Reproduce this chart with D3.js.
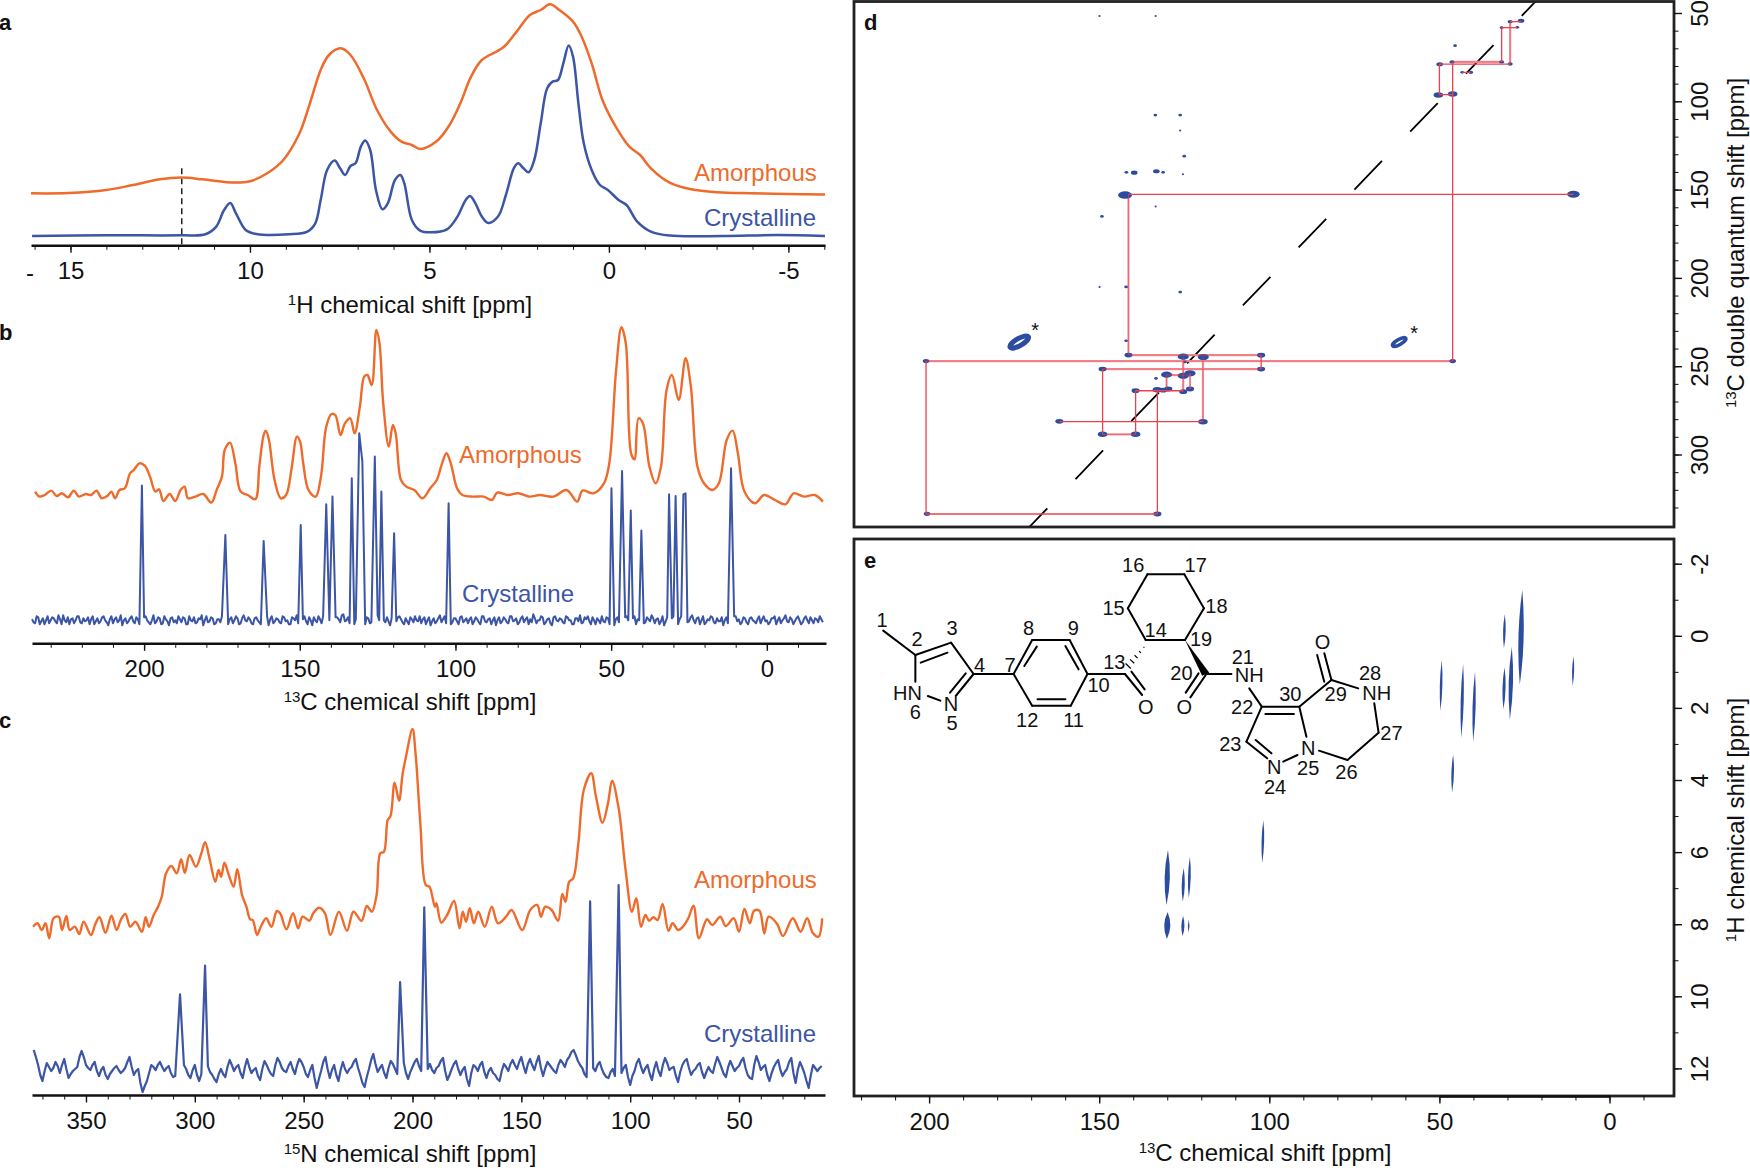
<!DOCTYPE html>
<html>
<head>
<meta charset="utf-8">
<style>
  body { margin:0; background:#fff; }
  svg { display:block; font-family:"Liberation Sans",Arial,sans-serif; }
  .axis path, .axis line { stroke:#111; }
  .axis text { font-size:24px; fill:#111; font-family:"Liberation Sans",Arial,sans-serif; }
</style>
<script src="https://cdn.jsdelivr.net/npm/d3@7"></script>
</head>
<body>
<div id="canvas"></div>
<script>
// ---------- panel a, 1H spectra (ppm, intensity)
var hAmorphPpm = [16.1,15.05,14,13.26,12.51,11.91,11.32,10.42,9.97,9.52,9.07,8.62,8.33,8.03,7.8,7.47,7.2,6.83,6.46,6.08,5.78,5.49,5.26,4.81,4.44,4.14,3.84,3.54,2.94,2.57,2.2,1.9,1.64,1.38,1,0.78,0.48,0.18,-0.19,-0.57,-0.87,-1.17,-1.69,-2.29,-3.03,-3.93,-4.98,-6.02];
var hAmorphInt = [52,52.3,55.3,60.3,66,67.7,66,62.7,64.3,72,85.3,112,142,175.3,190.3,197,190.3,167,135.3,113.7,103.7,100.3,96.3,103.7,120.3,142,168.7,185.3,198,213.7,230.3,235.3,241,235.3,223.7,210.3,182,145.3,118.7,98.7,90.3,77,62.7,56,53,52,51.3,50.7];
var hCrystPpm = [16.07,14,11.91,11.24,10.94,10.72,10.55,10.39,10.12,9.82,8.92,8.4,8.18,8.03,7.85,7.64,7.49,7.35,7.2,7.06,6.91,6.79,6.65,6.49,6.31,6.16,5.96,5.81,5.7,5.49,5.26,4.96,4.51,4.22,3.99,3.87,3.72,3.54,3.36,3.09,2.87,2.65,2.53,2.38,2.24,2.08,1.9,1.72,1.57,1.42,1.27,1.12,1,0.85,0.7,0.48,0.25,0.03,-0.27,-0.49,-0.79,-1.17,-1.69,-3.18,-4.68,-6.02];
var hCrystInt = [9.3,10,10,11,18.7,35.3,42.3,32,15.3,11.3,11,13.7,22,45.3,75.3,84.7,77,70.3,79.3,82,98.7,104.7,95.3,55.3,36,42,65.3,70.3,62,25.3,14.7,13,16,28.7,45.3,49.3,42,28.7,22.3,28.7,50.3,77,82,77,73,85.3,122,157,163.7,165.3,182,199.7,188.7,142,102,75.3,60.3,55.3,45.3,40.3,23.7,13.7,9.7,9.3,10.3,9.3];
var hDashedPpm = 11.9;
var hTicks = [15,10,5,0,-5];

// ---------- panel b, 13C spectra
var cAmorphPpm = [235,233.6,231.9,229.8,228.1,226.4,224.4,222.6,220.9,218.7,217,215.3,213.6,211.8,210.5,209.3,207.9,206.2,204.5,203.3,201.5,199.8,198.1,196.4,195.2,193.8,191.8,190,188.3,187,185.9,183.5,181,178.4,176.7,175,174.1,172.4,170.7,169,166.7,164.3,163,161.6,160.9,159.9,158.1,156.1,154.4,152.7,150.9,149.9,148.9,147.2,144.9,143.2,141.5,139.8,138.6,136.9,135.5,133.8,132.4,130.7,129.3,128.3,126.9,125.4,124.4,123.2,121.4,120.1,119.2,117.5,115.8,113.2,110.6,108.1,106,104.3,102.9,101.5,99.5,97.8,94.3,90.9,88.3,86.6,83.2,79.8,76.3,72.9,68.6,64.3,60.9,59.2,55.7,52.3,50.6,48.4,46.7,45.3,43.6,42.5,41.2,39.8,37.7,35.7,34,32.2,30.5,28.3,26.1,24.4,22.3,20.2,17.5,15.4,12.9,11,9.3,7.2,3.8,0.9,-2.6,-6,-8.6,-12,-15.4,-18];
var cAmorphInt = [151.7,146.7,148.3,152.7,147.3,150,146,152.7,146.7,149.3,148.3,152.7,145,147.3,151.7,145,153.3,155,170,173.3,180,177.7,166.7,151.7,154,142.3,149.3,142.3,153.3,156.7,145,146.7,149.3,140.7,153.3,166.7,193.3,200.7,180,151.7,148.3,144,176.7,208.3,212.7,203.3,163.3,145,148.3,173.3,206.7,201.7,180,153.3,146.7,166.7,216.7,229.3,228.3,208.3,220,225,210,236.7,266.7,268.3,258.3,313.3,300,240,196.7,218.3,210,163.3,156.7,153.3,145,155,163.3,180,190,180,155,148.3,146.7,146.7,143.3,150.7,148.3,150,146.7,148.3,146.7,153.3,141.7,152.7,150,160,180,273.3,316,300,190,184,225,220,176.7,160,176.7,253.3,268.3,243.3,285,256.7,176.7,160,153.3,160,203.3,212.7,190,151.7,140,148.3,143.3,139,150,146.7,148.3,141.7];
// baseline samples of the crystalline trace, one per ppm from 236 down to -18
var cNoisePpmStart = 236;
var cNoise = [
 24,20,26,22,19,27,23,25,20,24, 28,21,19,25,23,27,20,22,26,24,
 19,25,22,27,21,24,20,26,23,18, 25,22,27,20,24,21,26,23,19,28,
 22,25,20,24,18,26,23,27,21,25, 19,23,26,21,24,18,27,22,25,20,
 24,27,21,19,26,23,25,20,28,22, 24,19,26,21,25,23,18,27,22,24,
 20,26,23,19,25,28,21,24,22,26, 18,23,27,20,25,22,24,19,26,21,
 29,23,20,26,24,22,27,19,25,21, 24,28,20,23,26,18,25,22,27,21,
 25,19,24,27,22,20,26,23,18,25, 22,28,24,20,26,21,25,19,27,23,
 20,26,22,24,19,27,21,25,23,18, 26,22,24,20,27,23,19,25,21,26,
 24,29,20,23,26,21,25,18,27,22, 24,20,26,23,19,25,28,21,24,22,
 26,19,23,27,21,25,22,18,26,24, 20,27,22,25,19,23,26,21,24,28,
 20,25,22,18,26,23,27,21,24,19, 25,22,28,20,26,23,19,24,27,21,
 25,22,18,26,23,20,27,24,21,25, 19,26,22,24,20,27,23,21,25,19,
 26,23,28,21,24,22,27,19,25,23, 26,20,24,27,21
];
// the same trace at the half ppm positions, 235.5 down to -17.5
var cNoiseHalf = [
 21,27,19,25,23,20,26,22,28,19, 23,26,24,20,27,21,25,23,19,27,
 22,20,26,23,18,27,24,21,28,23, 20,25,22,26,19,24,27,21,23,20,
 26,19,27,22,25,21,20,24,26,19, 27,22,20,25,28,23,21,26,19,24,
 21,23,26,24,20,27,19,25,23,26, 20,25,23,19,22,27,24,20,25,21,
 27,22,19,26,23,20,25,27,19,23, 26,21,24,27,19,23,20,26,24,28,
 22,26,24,19,27,21,23,26,20,24, 19,23,27,21,22,25,20,26,24,19,
 22,26,21,23,27,24,19,26,22,20, 25,21,27,23,19,25,22,26,21,25,
 24,19,26,21,27,22,24,19,26,23, 20,26,21,27,22,25,21,27,24,19,
 21,25,23,27,19,24,20,26,23,25, 21,27,23,19,25,22,20,26,27,19,
 23,25,20,22,26,19,27,24,21,20, 26,23,19,27,24,21,20,26,22,25,
 24,19,27,22,20,25,23,19,27,24, 21,26,23,25,19,27,21,23,26,20,
 22,26,23,20,25,27,22,19,26,21, 25,23,20,27,24,22,19,25,27,23,
 20,25,22,26,19,25,23,21,27,20, 23,25,21,24
];
var cPeakPpm = [200.7,173.9,161.6,149.7,141.5,139.5,133.3,130.9,129.9,125.9,123.8,119.7,102.2,49.9,46.5,43.7,40.3,31.4,29.3,26.8,26.1,11.5];
var cPeakInt = [157.7,108.3,102.3,118.3,139,146.7,165,210,181.7,186.7,151.7,110,140,155,172.3,132.7,112.7,149,147.3,149,150,175];
var cTicks = [200,150,100,50,0];

// ---------- panel c, 15N spectra
var nAmorphPpm = [374.3,372.3,370.3,368.6,366.9,364.9,362.5,361,359,357.5,355.1,353.1,351.1,347.7,345.7,343.8,341,338.3,335.9,333.9,331.9,329.7,327.3,324.3,322.6,321.1,318.9,316.9,315.2,313.2,310.8,308.3,306.3,304.6,302.4,299.5,297,295.3,293.1,290.6,289.1,287.9,286.4,284.4,282.2,280.5,278.3,276.3,274.6,273.4,271.4,269.7,267.2,264.8,262.3,260.8,257.9,254.9,252.5,250.5,247.3,245.6,242.9,240.2,237.7,233.8,230.1,227.1,223.4,221,218.7,216.5,214.8,213.1,211.4,210.1,208.2,206.2,204.5,203,200,198.6,196.4,193.9,192.2,189.7,189,186.8,184.1,180.9,178.4,176.9,175.4,173.7,171.8,169.8,166.8,163.6,160.7,157,154.5,149.6,145.9,142.7,141,139,136.1,133.1,131.2,129.7,128,126.2,123.8,121.3,117.9,115.7,112.7,110.2,108.3,105.3,102.1,99.2,97.2,95,93,91.3,89.3,87.4,85.1,82.4,80.5,78,75.8,73.3,70.9,68.4,64.7,62.3,58.6,56.1,52.4,50,47.5,45,43.1,40.6,38.4,36.4,32.7,29.8,25.3,21.7,18.7,16,13.5,11.8];
var nAmorphInt = [168.3,171.7,165,171.7,156.7,176.7,178.3,165,179,165,168.3,161,173.3,160,171,177.7,162.3,179.3,165,175.7,181,168.3,173.3,163.3,177.7,168.3,180,188.3,198.3,221.7,229,221.7,235.7,222.3,240,228.3,241.7,252.7,235,213.3,225,218.3,232.3,220,208.3,225.7,200,188.3,175.7,175,160,168.3,176.7,168.3,184,181.7,165.7,181.7,166.7,178.3,174.3,181.7,187.3,181.7,160,183.3,164.3,183.3,174.3,189,183.3,200,241.7,243.3,275,279,312.3,294.3,321.7,338.3,366,341.7,271.7,210,208.3,188.3,191.7,172.3,180,194,166.7,183.3,173.3,186.7,171.7,183.3,168.3,188.3,171.7,178.3,185,165,185,190,178.3,188.3,185,174.3,201,193.3,213.3,216.7,251.7,305,321.7,298.3,272.3,291.7,314.3,286.7,225,183.3,196.7,168.3,180,174.3,177.7,175,191,164.3,171.7,165,168.3,176.7,189.3,156.7,175.7,170,178.3,169,176.7,163.3,186,171.7,184.3,184.3,161.7,178.3,171.7,159,176.7,163.3,176.7,161.7,158.3,176.7];
// baseline samples of the crystalline trace, even ppm from 374 down to 12
var nNoisePpmStart = 374;
var nNoise = [
 45,30,14,32,24,33,22,36,17,24, 28,44,30,25,33,19,28,16,24,29,
 22,27,38,20,26,3,14,30,25,33, 24,29,18,21,32,26,17,30,14,25,
 29,20,13,26,18,35,24,30,17,36, 22,27,15,34,25,19,37,27,23,33,
 21,36,28,18,30,7,24,38,17,30, 14,33,22,28,36,20,8,26,41,23,
 30,17,34,26,19,32,16,28,36,24, 18,31,22,29,37,15,26,34,20,28,
 9,30,24,33,17,27,20,14,31,24, 35,26,38,22,36,25,39,19,33,27,
 22,35,28,38,45,34,27,18,30,24, 33,21,17,26,14,22,30,10,24,36,
 22,30,15,33,19,37,25,28,13,30, 36,20,26,32,17,28,22,38,27,18,
 34,24,29,37,20,16,39,25,30,14, 28,35,19,26,37,12,33,22,7,30,
 24,29
];
// odd ppm positions, 373 down to 13
var nNoiseOdd = [
 38,20,24,28,27,29,30,26,21,26, 38,38,27,30,24,25,20,21,27,25,
 24,33,28,24,12,9,22,28,30,28, 27,22,19,27,30,20,25,20,21,28,
 23,16,21,21,28,30,28,22,28,28, 25,19,26,30,21,30,33,24,29,26,
 30,33,21,25,17,16,33,26,25,20, 25,26,26,33,27,12,18,35,31,27,
 22,27,31,21,27,22,23,33,29,20, 26,25,27,34,24,20,31,26,25,16,
 22,28,30,23,24,22,16,24,28,31, 30,33,29,31,30,33,27,27,30,24,
 30,32,35,43,40,30,21,26,27,30, 26,18,23,19,18,27,18,19,32,28,
 27,21,26,24,30,32,27,19,23,34, 27,24,30,23,23,24,31,33,21,28,
 29,27,34,27,17,30,33,28,20,22, 32,25,23,33,22,25,28,14,20,27,
 27
];
var nPeakPpm = [306.8,295.3,205.7,194.6,118.4,105.3];
var nPeakInt = [100.7,129.3,113,187.7,193.7,210];
var nTicks = [350,300,250,200,150,100,50];

// ---------- panel d, 13C DQ-SQ correlation
var dqSpotC = [149.9,133.4,133.5,126.2,126.2,125,142,139.7,133.2,131.2,125.4,142.4,133.4,149.2,45.4,49.9,46.3,31.7,29.2,31.7,27.1,29.2,26,43.3,40.8,50.3,46.1,10.6,149.9,142.1,126.2,142.1,141.4,125.3,119.4,124.8,102.4,102.4,149,130.2,123.3,125.3,133.3,139.3,132.9,131.2,129.7,123.3,125.3,161.7,119.5,149,139.3,132.9,200.9,46.1,200.6];
var dqSpotDq = [51.7,51.7,107.8,107.8,116.6,131.1,140.2,140.4,139.6,140.2,141.3,153.1,159.5,165.2,68.5,79,77.7,77.7,78.9,58.3,58.1,54.9,54.4,83.6,83.6,96.4,95.9,152.6,205.1,205.1,208,235.6,243.7,244.6,244.8,247.6,243.8,251.6,251.6,254.8,254,255.4,256.9,263.9,263.3,263.6,262.9,262.9,264.4,281.2,281.4,288.6,288.6,333.7,247.1,247.1,333.6];
var dqSpotInt = [1,1,1.5,1.5,1,1.5,1.5,2.5,2.5,1.5,1,5,1,1.5,1.5,2.5,2,2,2,1.5,1.5,2,2.5,1.5,2,3.5,3.5,4.5,1,1.5,1.5,1.5,3,4,4,1.5,3,3,3,4,4,4,1.5,3,3.5,3,3,3,3,3,3.5,3.5,3.5,3,2.5,2.5,2.5];
// x1,dq1,x2,dq2 of the walk through the spectrum
var dqLinks = [
 [141.4,152.7,10.6,152.7],[149,251.6,149,288.6],[139.3,263.9,139.3,288.6],[139.3,263.9,125.3,263.9],
 [161.7,281.4,119.5,281.4],[132.9,263.3,132.9,333.7],[200.9,333.7,132.9,333.7],[200.9,247.1,200.9,333.7],
 [46.1,77.7,46.1,247.1],[50,79,50,96.4],[50,96.2,46.1,96.2],[50,78.9,29.2,78.9],[31.7,58.3,31.7,77.7],
 [31.7,58.3,27.1,58.3],[29.2,54.9,26,54.9],[43.3,83.6,40.8,83.6],[102.4,243.7,102.4,251.6],[123.3,254,123.3,262.9]
];
var dqPaleLinks = [
 [141.4,152.7,141.4,243.7],[141.4,243.7,102.4,243.7],[149,251.6,102.4,251.6],[149,288.6,139.3,288.6],
 [125.3,244.6,125.3,264.4],[200.9,247.1,46.1,247.1],[119.5,244.8,119.5,281.4],[46.1,77.7,31.7,77.7],
 [29.2,54.9,29.2,78.9],[130.2,254.8,130.2,262.9],[130.2,255,123.3,255]
];
var dqArtefactC = [173.5,61.8];
var dqArtefactDq = [236.3,236.3];
var dqArtefactSize = [10.5,7.5];
var dqStarC = [168.8,57.4];
var dqStarDq = [228.9,230.6];
var dqDiagonalC = [17.7,178];
var dqTicks = [50,100,150,200,250,300];

// ---------- panel e, 1H-13C correlation
var hcPeakC = [130,125.3,123.5,130,125.4,123.7,101.9,49.5,43.3,39.8,46.1,30.9,31,29,26,10.7];
var hcPeakHStart = [5.94,6.44,6.13,7.66,7.77,7.86,5.11,0.67,0.78,1,3.3,-0.6,0.87,0.3,-1.27,0.57];
var hcPeakHEnd = [7.47,7.38,7.27,8.41,8.33,8.24,6.3,2.08,2.83,2.94,4.35,0.34,2.03,2.32,1.36,1.39];
var hcPeakInt = [3,1.8,1.6,3.5,1.8,1,1.5,1.5,1.8,1.8,1.5,1.5,1.8,2.5,3,1.2];
var hcTicks = [-2,0,2,4,6,8,10,12];
var c13Ticks = [200,150,100,50,0];

// colours
var orange = '#ee6b2b', blue = '#3c55a5', spotBlue = '#2b4c9f', red = '#e8424f', pink = '#f59aa2';

var svg = d3.select('#canvas').append('svg').attr('width',1750).attr('height',1168);

function zipRows(a,b){ return a.map(function(d,i){ return [d,b[i]]; }); }

function gridRows(start,step,values){
  return values.map(function(d,i){ return [start-i*step,d]; });
}

// baseline samples and peak tops merged in falling ppm order, samples right next to a peak are left out
function mergeTrace(rows,peakPpm,peakInt,guard){
  var kept = rows.filter(function(r){
    return !peakPpm.some(function(p){ return Math.abs(p-r[0])<guard; });
  });
  return kept.concat(zipRows(peakPpm,peakInt)).sort(function(a,b){ return b[0]-a[0]; });
}

function chemLabel(g,x,y,sup,letter,rest,rotate){
  var t = g.append('text').attr('font-size',24).attr('fill','#111').attr('text-anchor','middle')
    .attr('transform','translate('+x+','+y+')'+(rotate?' rotate(-90)':''));
  t.append('tspan').attr('font-size',15).attr('dy',-8).text(sup);
  t.append('tspan').attr('dy',8).text(letter+' '+rest);
}

function seriesLabel(x,y,txt,col){
  svg.append('text').attr('x',x).attr('y',y).attr('font-size',24).attr('fill',col).text(txt);
}

function panelLetter(x,y,txt){
  svg.append('text').attr('x',x).attr('y',y).attr('font-size',22).attr('font-weight','bold').attr('fill','#111').text(txt);
}

function bottomAxis(scale,y,major,minor){
  svg.append('g').attr('class','axis').attr('transform','translate(0,'+y+')')
    .call(d3.axisBottom(scale).tickValues(minor).tickSize(4.5).tickSizeOuter(0).tickFormat(''))
    .call(function(s){ s.select('.domain').attr('stroke-width',2.6); });
  svg.append('g').attr('class','axis').attr('transform','translate(0,'+y+')')
    .call(d3.axisBottom(scale).tickValues(major).tickSize(7.5).tickSizeOuter(0).tickPadding(9).tickFormat(String))
    .call(function(s){ s.select('.domain').remove(); s.selectAll('line').attr('stroke-width',1.4); });
}

function rightAxis(scale,x,major,minor){
  svg.append('g').attr('class','axis').attr('transform','translate('+x+',0)')
    .call(d3.axisRight(scale).tickValues(minor).tickSize(4.5).tickSizeOuter(0).tickFormat(''))
    .call(function(s){ s.select('.domain').remove(); });
  svg.append('g').attr('class','axis').attr('transform','translate('+x+',0)')
    .call(d3.axisRight(scale).tickValues(major).tickSize(8).tickSizeOuter(0).tickFormat(String))
    .call(function(s){
      s.select('.domain').remove();
      s.selectAll('line').attr('stroke-width',1.4);
      s.selectAll('text').attr('x',0).attr('dy',0).attr('text-anchor','middle')
        .attr('transform','translate(25,0) rotate(-90)').attr('dominant-baseline','central');
    });
}

function trace(x,y,rows,col,curve,width){
  var line = d3.line().x(function(d){ return x(d[0]); }).y(function(d){ return y(d[1]); }).curve(curve);
  svg.append('path').datum(rows).attr('d',line).attr('fill','none').attr('stroke',col)
    .attr('stroke-width',width).attr('stroke-linejoin','round');
}

//---- panel a
var xA = d3.scaleLinear().domain([16.1,-6.02]).range([31,825]);
var yA = d3.scaleLinear().domain([0,245]).range([245.3,0.3]);
svg.append('line').attr('x1',xA(hDashedPpm)).attr('x2',xA(hDashedPpm)).attr('y1',yA(77)).attr('y2',yA(0))
  .attr('stroke','#222').attr('stroke-width',1.5).attr('stroke-dasharray','6 4');
trace(xA,yA,zipRows(hAmorphPpm,hAmorphInt),orange,d3.curveCatmullRom,2.5);
trace(xA,yA,zipRows(hCrystPpm,hCrystInt),blue,d3.curveCatmullRom,2.5);
bottomAxis(xA,245.3,hTicks,d3.range(16,-7,-1));
svg.append('text').attr('x',30).attr('y',281).attr('font-size',24).attr('fill','#111').attr('text-anchor','middle').text('-');
chemLabel(svg,410,313,'1','H','chemical shift [ppm]');
seriesLabel(694,181,'Amorphous',orange);
seriesLabel(704,226,'Crystalline',blue);
panelLetter(-1,30,'a');

//---- panel b
var xB = d3.scaleLinear().domain([236,-19]).range([32,826]);
var yB = d3.scaleLinear().domain([0,323]).range([643.3,320.3]);
trace(xB,yB,zipRows(cAmorphPpm,cAmorphInt),orange,d3.curveCatmullRom,2.4);
var cCrystRows = gridRows(cNoisePpmStart,1,cNoise).concat(gridRows(cNoisePpmStart-0.5,1,cNoiseHalf));
trace(xB,yB,mergeTrace(cCrystRows,cPeakPpm,cPeakInt,0.6),blue,d3.curveLinear,2);
bottomAxis(xB,643.3,cTicks,d3.range(230,-20,-10));
chemLabel(svg,410,710,'13','C','chemical shift [ppm]');
seriesLabel(459,463,'Amorphous',orange);
seriesLabel(462,602,'Crystalline',blue);
panelLetter(-1,340,'b');

//---- panel c
var xC = d3.scaleLinear().domain([374.8,10.5]).range([32,825]);
var yC = d3.scaleLinear().domain([0,385]).range([1095,710]);
trace(xC,yC,zipRows(nAmorphPpm,nAmorphInt),orange,d3.curveCatmullRom,2.4);
var nCrystRows = gridRows(nNoisePpmStart,2,nNoise).concat(gridRows(nNoisePpmStart-1,2,nNoiseOdd));
trace(xC,yC,mergeTrace(nCrystRows,nPeakPpm,nPeakInt,1.2),blue,d3.curveLinear,2.2);
bottomAxis(xC,1095,nTicks,d3.range(370,10,-10));
chemLabel(svg,410,1162,'15','N','chemical shift [ppm]');
seriesLabel(694,888,'Amorphous',orange);
seriesLabel(704,1042,'Crystalline',blue);
panelLetter(-1,728,'c');

//---- panel d
var xD = d3.scaleLinear().domain([50,0]).range([1439.4,1609.5]);
var yD = d3.scaleLinear().domain([50,300]).range([13,454.5]);
svg.append('defs').append('clipPath').attr('id','dClip').append('rect')
  .attr('x',854).attr('y',2).attr('width',820).attr('height',525);
var plotD = svg.append('g').attr('clip-path','url(#dClip)');

// the diagonal, double quantum = 2 x single quantum
plotD.append('line').attr('x1',xD(dqDiagonalC[0])).attr('y1',yD(2*dqDiagonalC[0]))
  .attr('x2',xD(dqDiagonalC[1])).attr('y2',yD(2*dqDiagonalC[1]))
  .attr('stroke','#000').attr('stroke-width',1.8).attr('stroke-dasharray','39.7 40.7');

function linkLines(rows,col,width){
  plotD.selectAll(null).data(rows).enter().append('line')
    .attr('x1',function(d){ return xD(d[0]); }).attr('y1',function(d){ return yD(d[1]); })
    .attr('x2',function(d){ return xD(d[2]); }).attr('y2',function(d){ return yD(d[3]); })
    .attr('stroke',col).attr('stroke-width',width);
}

linkLines(dqPaleLinks,pink,2.2);

var rxScale = d3.scaleLinear().domain([1,5]).range([1.1,7]);
var ryScale = d3.scaleLinear().domain([1,5]).range([1,3.8]);
plotD.selectAll(null).data(dqSpotC).enter().append('ellipse')
  .attr('cx',function(d){ return xD(d); })
  .attr('cy',function(d,i){ return yD(dqSpotDq[i]); })
  .attr('rx',function(d,i){ return rxScale(dqSpotInt[i]); })
  .attr('ry',function(d,i){ return ryScale(dqSpotInt[i]); })
  .attr('fill',spotBlue);
linkLines(dqPaleLinks,red,0.6);
linkLines(dqLinks,red,1.3);

plotD.selectAll(null).data(dqArtefactC).enter().append('ellipse')
  .attr('cx',0).attr('cy',0)
  .attr('rx',function(d,i){ return dqArtefactSize[i]; })
  .attr('ry',function(d,i){ return dqArtefactSize[i]*0.34; })
  .attr('transform',function(d,i){ return 'translate('+xD(d)+','+yD(dqArtefactDq[i])+') rotate(-30)'; })
  .attr('fill','none').attr('stroke',spotBlue)
  .attr('stroke-width',function(d,i){ return dqArtefactSize[i]*0.48; });
plotD.selectAll(null).data(dqStarC).enter().append('text')
  .attr('x',function(d){ return xD(d); })
  .attr('y',function(d,i){ return yD(dqStarDq[i])+8; })
  .attr('text-anchor','middle').attr('font-size',20).attr('fill','#111').text('*');

svg.append('rect').attr('x',854).attr('y',1.5).attr('width',820).attr('height',525.5)
  .attr('fill','none').attr('stroke','#222').attr('stroke-width',2.8);
rightAxis(yD,1674,dqTicks,d3.range(50,340,10));
chemLabel(svg,1744,243,'13','C','double quantum shift [ppm]',true);
panelLetter(864,30,'d');

//---- panel e
var xE = d3.scaleLinear().domain([50,0]).range([1439.4,1609.5]);
var yE = d3.scaleLinear().domain([0,12]).range([635.8,1068.4]);
var hcWidth = d3.scaleLinear().domain([1,3.5]).range([1,3.6]);
var lens = function(d,i){
  var top = yE(hcPeakHStart[i]), bot = yE(hcPeakHEnd[i]), mid = (top+bot)/2, x = xE(d), w = hcWidth(hcPeakInt[i])*1.7;
  var p = d3.path();
  p.moveTo(x,top);
  p.quadraticCurveTo(x+w,mid,x,bot);
  p.quadraticCurveTo(x-w,mid,x,top);
  return p.toString();
};
svg.selectAll(null).data(hcPeakC).enter().append('path')
  .attr('d',lens)
  .attr('transform',function(d,i){ return 'rotate(1.5 '+xE(d)+' '+yE((hcPeakHStart[i]+hcPeakHEnd[i])/2)+')'; })
  .attr('fill',spotBlue);

svg.append('rect').attr('x',854).attr('y',539).attr('width',820).attr('height',557)
  .attr('fill','none').attr('stroke','#222').attr('stroke-width',2.8);
rightAxis(yE,1674,hcTicks,d3.range(-2,13,1));
bottomAxis(xE,1096,c13Ticks,d3.range(220,-20,-10));
chemLabel(svg,1265,1161,'13','C','chemical shift [ppm]');
chemLabel(svg,1744,820,'1','H','chemical shift [ppm]',true);
panelLetter(864,568,'e');

//---- molecule in panel e
var sx = d3.scaleLinear().domain([0,1568]).range([860,1420]);
var sy = d3.scaleLinear().domain([0,780]).range([540,800]);
var bonds = [
 [65,272,155,345],[155,345,255,308],[170,368,245,338],[255,308,318,402],[318,402,268,468],[296,400,252,458],
 [155,345,155,425],[190,468,225,482],[318,402,430,402],
 [430,402,482,300],[482,300,587,300],[587,300,637,402],[637,402,590,497],[590,497,482,497],[482,497,430,402],
 [460,378,495,320],[575,318,612,388],[497,478,575,478],
 [637,402,742,402],[742,402,790,465],[760,395,797,448],
 [800,300,910,300],[910,300,963,205],[963,205,908,103],[908,103,805,103],[805,103,750,205],[750,205,800,300],
 [970,402,925,472],[948,400,912,458],[970,402,1040,402],
 [1090,445,1125,500],[1125,500,1230,500],[1135,522,1215,522],[1125,500,1082,605],[1082,605,1140,655],[1108,600,1152,640],
 [1185,665,1225,645],[1230,500,1250,590],[1230,500,1320,420],[1320,420,1300,340],[1300,425,1280,345],
 [1320,420,1395,445],[1440,490,1452,578],[1452,578,1365,660],[1365,660,1285,632]
];
var mol = svg.append('g');
mol.selectAll(null).data(bonds).enter().append('line')
  .attr('x1',function(d){ return sx(d[0]); }).attr('y1',function(d){ return sy(d[1]); })
  .attr('x2',function(d){ return sx(d[2]); }).attr('y2',function(d){ return sy(d[3]); })
  .attr('stroke','#000').attr('stroke-width',2).attr('stroke-linecap','round');
// stereo bonds
mol.append('path').attr('d','M'+sx(910)+','+sy(300)+'L'+sx(958)+','+sy(407)+'L'+sx(978)+','+sy(398)+'Z').attr('fill','#000');
var hashSteps = [0,1,2,3,4];
mol.selectAll(null).data(hashSteps).enter().append('line')
  .attr('x1',function(d){ return sx(795-d*11-(1+d*1.6)); })
  .attr('y1',function(d){ return sy(322+d*14-(1+d*1.6)); })
  .attr('x2',function(d){ return sx(795-d*11+(1+d*1.6)); })
  .attr('y2',function(d){ return sy(322+d*14+(1+d*1.6)); })
  .attr('stroke','#000').attr('stroke-width',1.2);

var atomText = ['1','2','3','4','7','8','9','10','11','12','13','14','15','16','17','18','19','20','21','22','23','24','25','26','27','28','29','30','HN','6','N','5','O','O','NH','N','N','O','NH'];
var atomX = [62,160,258,335,420,472,597,668,598,468,712,828,710,765,940,998,955,900,1072,1070,1037,1162,1255,1362,1488,1428,1332,1205,133,155,255,258,800,908,1090,1160,1255,1295,1447];
var atomY = [240,298,265,375,375,265,265,435,540,540,365,270,205,75,75,197,298,400,350,500,612,742,685,695,580,400,462,462,460,517,492,550,500,500,405,682,625,305,460];
mol.selectAll(null).data(atomText).enter().append('text')
  .attr('x',function(d,i){ return sx(atomX[i]); })
  .attr('y',function(d,i){ return sy(atomY[i]); })
  .attr('text-anchor','middle').attr('dominant-baseline','central')
  .attr('font-size',20).attr('fill','#111').text(function(d){ return d; });
</script>
</body>
</html>
